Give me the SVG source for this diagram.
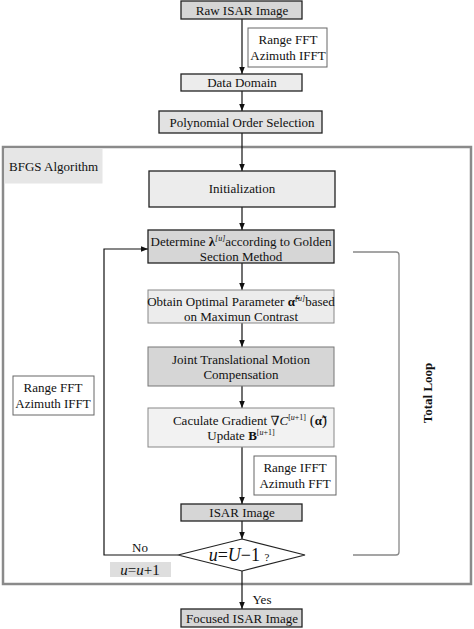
<svg xmlns="http://www.w3.org/2000/svg" width="474" height="629" viewBox="0 0 474 629">
<defs>
<marker id="ah" viewBox="0 0 10 10" refX="10" refY="5" markerWidth="7" markerHeight="7" markerUnits="userSpaceOnUse" orient="auto"><path d="M0,1 L10,5 L0,9 z" fill="#111"/></marker>
<style>
text{font-family:'Liberation Serif','DejaVu Serif','Times New Roman',serif;font-size:13px;fill:#111;text-anchor:middle}
.box{stroke:#222;stroke-width:1.3}
.dark{fill:#d6d6d6}
.light{fill:#ececec}
.note{fill:#fff;stroke:#666;stroke-width:1}
.ln{fill:none;stroke:#111;stroke-width:1.2}
.gl{fill:none;stroke:#888;stroke-width:1.3}
.it{font-style:italic}
.b{font-weight:bold}
.sup{font-size:8px}
</style>
</defs>
<rect width="474" height="629" fill="#fff"/>
<g id="bfgs">
<rect x="3" y="147" width="468" height="437" fill="#fff" stroke="#8a8a8a" stroke-width="2.5"/>
<rect x="4.5" y="148.5" width="98" height="35" fill="#e6e6e6"/>
<text x="9" y="171" style="text-anchor:start">BFGS Algorithm</text>
</g>
<g id="connectors">
<line class="ln" x1="242" y1="19" x2="242" y2="74" marker-end="url(#ah)"/>
<line class="ln" x1="242" y1="91" x2="242" y2="111" marker-end="url(#ah)"/>
<line class="ln" x1="242" y1="133" x2="242" y2="171" marker-end="url(#ah)"/>
<line class="ln" x1="242" y1="207" x2="242" y2="230" marker-end="url(#ah)"/>
<line class="ln" x1="242" y1="263" x2="242" y2="290" marker-end="url(#ah)"/>
<line class="ln" x1="242" y1="323" x2="242" y2="347" marker-end="url(#ah)"/>
<line class="ln" x1="242" y1="386" x2="242" y2="408" marker-end="url(#ah)"/>
<line class="ln" x1="242" y1="447" x2="242" y2="504" marker-end="url(#ah)"/>
<line class="ln" x1="242" y1="521" x2="242" y2="539" marker-end="url(#ah)"/>
<line class="ln" x1="242" y1="571" x2="242" y2="609" marker-end="url(#ah)"/>
<polyline class="ln" points="178,555 104,555 104,249 148,249" marker-end="url(#ah)"/>
<path class="gl" d="M353,252 H396 Q399,252 399,255 V552 Q399,555 396,555 H353"/>
<text x="140" y="552">No</text>
<text x="262" y="604">Yes</text>
</g>
<g id="raw"><rect class="box dark" x="181" y="1" width="121" height="18"/><text x="242" y="15">Raw ISAR Image</text></g>
<g id="note1"><rect class="note" x="248" y="28" width="79" height="39"/><text x="288" y="44">Range FFT</text><text x="288" y="60">Azimuth IFFT</text></g>
<g id="datadomain"><rect class="box light" x="181" y="74" width="121" height="17"/><text x="242" y="87">Data Domain</text></g>
<g id="poly"><rect class="box" fill="#e2e2e2" x="159" y="111" width="163" height="22"/><text x="242" y="127">Polynomial Order Selection</text></g>
<g id="init"><rect class="box light" x="149" y="171" width="186" height="36" stroke-width="2"/><text x="242" y="193">Initialization</text></g>
<g id="determine"><rect class="box dark" x="148" y="230" width="186" height="33" stroke="#777"/>
<text x="241" y="246">Determine <tspan class="b">λ</tspan><tspan class="sup it" dy="-5">[u]</tspan><tspan dy="5">according to Golden</tspan></text>
<text x="241" y="261">Section Method</text></g>
<g id="obtain"><rect class="light" x="148" y="290" width="186" height="33" stroke="#888" stroke-width="1"/>
<text x="241" y="306">Obtain Optimal Parameter <tspan class="b">α̃</tspan><tspan class="sup it" dy="-5">[u]</tspan><tspan dy="5">based</tspan></text>
<text x="241" y="321">on Maximun Contrast</text></g>
<g id="joint"><rect class="dark" x="148" y="347" width="186" height="39" stroke="#777" stroke-width="1"/>
<text x="241" y="364">Joint Translational Motion</text>
<text x="241" y="379">Compensation</text></g>
<g id="gradient"><rect fill="#f2f2f2" x="148" y="408" width="186" height="39" stroke="#888" stroke-width="1"/>
<text x="250" y="425">Caculate Gradient ∇<tspan class="it">C</tspan><tspan class="sup" dy="-5">[<tspan class="it">u</tspan>+1]</tspan><tspan dy="5" style="font-size:15px"> (</tspan><tspan class="b">α̃</tspan><tspan style="font-size:15px">)</tspan></text>
<text x="241" y="440">Update  <tspan class="b">B</tspan><tspan class="sup" dy="-5">[<tspan class="it">u</tspan>+1]</tspan></text></g>
<g id="note2"><rect class="note" x="254" y="456" width="82" height="39"/><text x="295" y="472">Range IFFT</text><text x="295" y="488">Azimuth FFT</text></g>
<g id="note3"><rect class="note" x="13" y="376" width="81" height="39"/><text x="53" y="392">Range FFT</text><text x="53" y="408">Azimuth IFFT</text></g>
<g id="isar"><rect class="box dark" x="181" y="504" width="121" height="17"/><text x="242" y="517">ISAR Image</text></g>
<g id="decision"><polygon points="242,539 305,555 242,571 178,555" fill="#fff" stroke="#222" stroke-width="1.2"/>
<text x="239" y="561" style="font-size:18px"><tspan class="it">u</tspan>=<tspan class="it">U</tspan>−1 <tspan style="font-size:11px">?</tspan></text></g>
<g id="incr"><rect x="110" y="562" width="61" height="15" fill="#dedede"/><text x="140" y="575" style="font-size:15px"><tspan class="it">u</tspan>=<tspan class="it">u</tspan>+1</text></g>
<g id="totalloop"><text transform="translate(432,393) rotate(-90)" class="b">Total  Loop</text></g>
<g id="focused"><rect class="box dark" x="181" y="609" width="121" height="18"/><text x="242" y="623">Focused ISAR Image</text></g>
</svg>
